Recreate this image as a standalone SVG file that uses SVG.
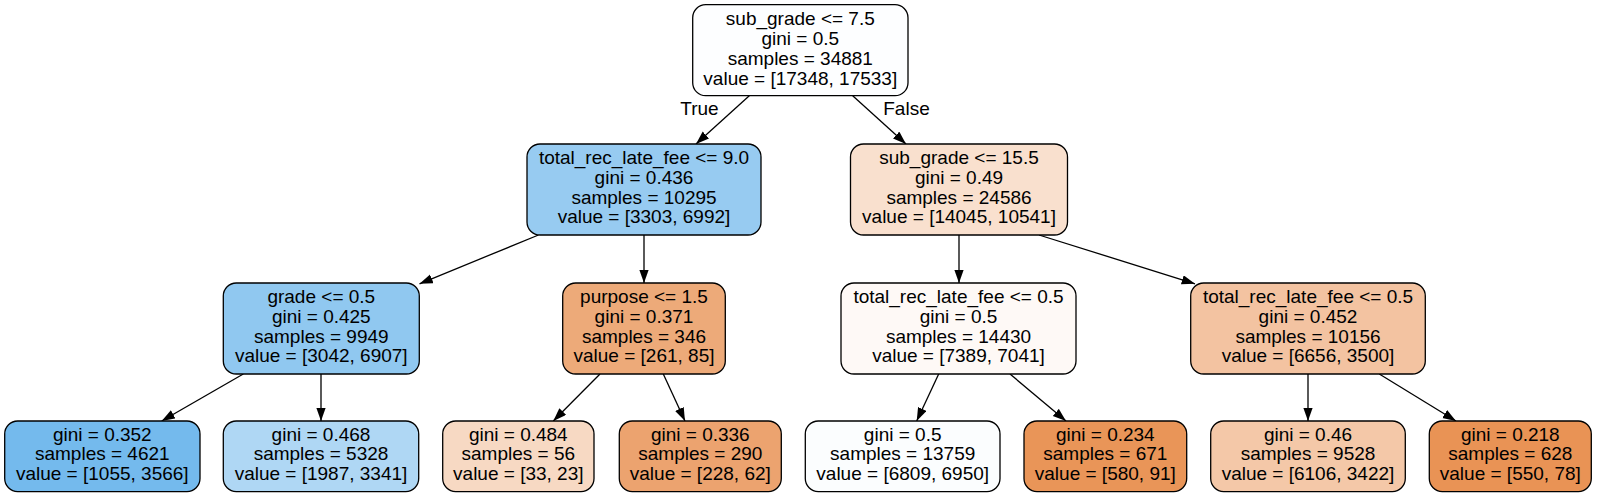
<svg xmlns="http://www.w3.org/2000/svg" width="1597" height="497" viewBox="0 0 1597 497">
<style>
.n rect{stroke:#000;stroke-width:1.3}
text{font-family:"Liberation Sans",Arial,Helvetica,sans-serif;font-size:19px;fill:#000;text-anchor:middle}
.e path{fill:none;stroke:#000;stroke-width:1.3}
</style>
<defs>
<marker id="ah" markerUnits="userSpaceOnUse" markerWidth="14" markerHeight="10" refX="13.3" refY="4.7" orient="auto">
<path d="M0,0 L13.3,4.7 L0,9.4 Z" fill="#000"/>
</marker>
</defs>
<rect width="1597" height="497" fill="#fff"/>
<g id="edges" class="e">
<path d="M749.3,95.7 L696,144" marker-end="url(#ah)"/>
<path d="M852.7,95.7 L906,144" marker-end="url(#ah)"/>
<path d="M538.5,235 L419.5,283.8" marker-end="url(#ah)"/>
<path d="M644,235 L644,283" marker-end="url(#ah)"/>
<path d="M959,235 L959,283" marker-end="url(#ah)"/>
<path d="M1039,235 L1195,283.8" marker-end="url(#ah)"/>
<path d="M243.3,374 L161.7,421" marker-end="url(#ah)"/>
<path d="M321,374 L321,421" marker-end="url(#ah)"/>
<path d="M600,374 L553.3,421" marker-end="url(#ah)"/>
<path d="M663.3,374 L685,421" marker-end="url(#ah)"/>
<path d="M938.7,374 L916.7,421" marker-end="url(#ah)"/>
<path d="M1010,374 L1066,421" marker-end="url(#ah)"/>
<path d="M1308,374 L1308,421" marker-end="url(#ah)"/>
<path d="M1379.3,374 L1456,421" marker-end="url(#ah)"/>
<text x="699.5" y="114.5">True</text>
<text x="906.5" y="114.5">False</text>
</g>
<g id="n0" class="n">
<rect x="692.7" y="4.7" width="215.3" height="91" rx="13" fill="#fdfeff"/>
<text x="800.3" y="25.3">sub_grade &lt;= 7.5</text>
<text x="800.3" y="45.1">gini = 0.5</text>
<text x="800.3" y="64.9">samples = 34881</text>
<text x="800.3" y="84.7">value = [17348, 17533]</text>
</g>
<g id="n1" class="n">
<rect x="527" y="144" width="234" height="91" rx="13" fill="#97cbf1"/>
<text x="644" y="164">total_rec_late_fee &lt;= 9.0</text>
<text x="644" y="183.8">gini = 0.436</text>
<text x="644" y="203.6">samples = 10295</text>
<text x="644" y="223.4">value = [3303, 6992]</text>
</g>
<g id="n2" class="n">
<rect x="850.5" y="144" width="217" height="91" rx="13" fill="#f9e0ce"/>
<text x="959" y="164">sub_grade &lt;= 15.5</text>
<text x="959" y="183.8">gini = 0.49</text>
<text x="959" y="203.6">samples = 24586</text>
<text x="959" y="223.4">value = [14045, 10541]</text>
</g>
<g id="n3" class="n">
<rect x="223.3" y="283" width="196" height="91" rx="13" fill="#90c8f0"/>
<text x="321.3" y="303">grade &lt;= 0.5</text>
<text x="321.3" y="322.8">gini = 0.425</text>
<text x="321.3" y="342.6">samples = 9949</text>
<text x="321.3" y="362.4">value = [3042, 6907]</text>
</g>
<g id="n4" class="n">
<rect x="562.7" y="283" width="162.6" height="91" rx="13" fill="#edaa79"/>
<text x="644" y="303">purpose &lt;= 1.5</text>
<text x="644" y="322.8">gini = 0.371</text>
<text x="644" y="342.6">samples = 346</text>
<text x="644" y="362.4">value = [261, 85]</text>
</g>
<g id="n5" class="n">
<rect x="841" y="283" width="235" height="91" rx="13" fill="#fef9f6"/>
<text x="958.5" y="303">total_rec_late_fee &lt;= 0.5</text>
<text x="958.5" y="322.8">gini = 0.5</text>
<text x="958.5" y="342.6">samples = 14430</text>
<text x="958.5" y="362.4">value = [7389, 7041]</text>
</g>
<g id="n6" class="n">
<rect x="1190.7" y="283" width="234.6" height="91" rx="13" fill="#f3c3a1"/>
<text x="1308" y="303">total_rec_late_fee &lt;= 0.5</text>
<text x="1308" y="322.8">gini = 0.452</text>
<text x="1308" y="342.6">samples = 10156</text>
<text x="1308" y="362.4">value = [6656, 3500]</text>
</g>
<g id="n7" class="n">
<rect x="4.7" y="421" width="195.3" height="70.6" rx="13" fill="#74baed"/>
<text x="102.3" y="440.5">gini = 0.352</text>
<text x="102.3" y="460.3">samples = 4621</text>
<text x="102.3" y="480.1">value = [1055, 3566]</text>
</g>
<g id="n8" class="n">
<rect x="223.3" y="421" width="195.4" height="70.6" rx="13" fill="#afd7f4"/>
<text x="321" y="440.5">gini = 0.468</text>
<text x="321" y="460.3">samples = 5328</text>
<text x="321" y="480.1">value = [1987, 3341]</text>
</g>
<g id="n9" class="n">
<rect x="442.7" y="421" width="151.3" height="70.6" rx="13" fill="#f7d9c3"/>
<text x="518.3" y="440.5">gini = 0.484</text>
<text x="518.3" y="460.3">samples = 56</text>
<text x="518.3" y="480.1">value = [33, 23]</text>
</g>
<g id="n10" class="n">
<rect x="619.3" y="421" width="162" height="70.6" rx="13" fill="#eca36f"/>
<text x="700.3" y="440.5">gini = 0.336</text>
<text x="700.3" y="460.3">samples = 290</text>
<text x="700.3" y="480.1">value = [228, 62]</text>
</g>
<g id="n11" class="n">
<rect x="805.3" y="421" width="194.7" height="70.6" rx="13" fill="#fbfdfe"/>
<text x="902.7" y="440.5">gini = 0.5</text>
<text x="902.7" y="460.3">samples = 13759</text>
<text x="902.7" y="480.1">value = [6809, 6950]</text>
</g>
<g id="n12" class="n">
<rect x="1024" y="421" width="162.7" height="70.6" rx="13" fill="#e99558"/>
<text x="1105.3" y="440.5">gini = 0.234</text>
<text x="1105.3" y="460.3">samples = 671</text>
<text x="1105.3" y="480.1">value = [580, 91]</text>
</g>
<g id="n13" class="n">
<rect x="1210.7" y="421" width="194.6" height="70.6" rx="13" fill="#f4c8a8"/>
<text x="1308" y="440.5">gini = 0.46</text>
<text x="1308" y="460.3">samples = 9528</text>
<text x="1308" y="480.1">value = [6106, 3422]</text>
</g>
<g id="n14" class="n">
<rect x="1429.3" y="421" width="162" height="70.6" rx="13" fill="#e99355"/>
<text x="1510.3" y="440.5">gini = 0.218</text>
<text x="1510.3" y="460.3">samples = 628</text>
<text x="1510.3" y="480.1">value = [550, 78]</text>
</g>
</svg>
